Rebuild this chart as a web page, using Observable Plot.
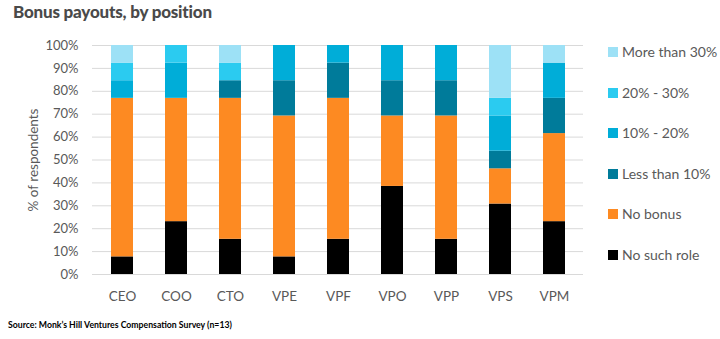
<!DOCTYPE html>
<html>
<head>
<meta charset="utf-8">
<script src="https://cdn.jsdelivr.net/npm/d3@7"></script>
<script src="https://cdn.jsdelivr.net/npm/@observablehq/plot@0.6"></script>
<style>
  body { margin: 0; background: #fff; font-family: Lato, "Open Sans", sans-serif; }
  #wrap { position: relative; width: 720px; height: 339px; overflow: hidden; }
  #title { position: absolute; left: 13px; top: 1px; font-size: 17px; font-weight: 900; color: #4a4a4a; letter-spacing: -0.2px; }
  #legend { position: absolute; left: 608px; top: 0; }
  .li { position: absolute; left: 0; white-space: nowrap; font-size: 14px; color: #595959; display: flex; align-items: center; }
  .sw { width: 10px; height: 10px; margin-right: 4px; }
  #caption { position: absolute; left: 8px; top: 319px; font-size: 8.7px; font-weight: 700; color: #000; }
  #ylabel { position: absolute; left: 33px; top: 160px; transform: translate(-50%, -50%) rotate(-90deg); white-space: nowrap; font-size: 13.5px; color: #595959; }
  #chart { position: absolute; left: 0; top: 0; }
</style>
</head>
<body>
<div id="wrap">
  <div id="chart"></div>
  <div id="title">Bonus payouts, by position</div>
  <div id="ylabel">% of respondents</div>
  <div id="legend"></div>
  <div id="caption">Source: Monk’s Hill Ventures Compensation Survey (n=13)</div>
</div>
<script>
const positions = ["CEO", "COO", "CTO", "VPE", "VPF", "VPO", "VPP", "VPS", "VPM"];
const categories = ["No such role", "No bonus", "Less than 10%", "10% - 20%", "20% - 30%", "More than 30%"];
const colors = ["#000000", "#FD8A22", "#007B9A", "#00ADD8", "#2BCBF0", "#9DE1F6"];
const respondents = 13;
// counts of respondents per position (out of 13)
const noSuchRole = [1, 3, 2, 1, 2, 5, 2, 4, 3];
const noBonus    = [9, 7, 8, 8, 8, 4, 7, 2, 5];
const lessThan10 = [0, 0, 1, 2, 2, 2, 2, 1, 2];
const tenTo20    = [1, 2, 0, 2, 1, 2, 2, 2, 2];
const twentyTo30 = [1, 1, 1, 0, 0, 0, 0, 1, 0];
const moreThan30 = [1, 0, 1, 0, 0, 0, 0, 3, 1];
const yTicks = [0, 0.1, 0.2, 0.3, 0.4, 0.5, 0.6, 0.7, 0.8, 0.9, 1];

const series = [noSuchRole, noBonus, lessThan10, tenTo20, twentyTo30, moreThan30];
const data = [];
series.forEach((vals, ci) => {
  vals.forEach((v, pi) => {
    data.push({position: positions[pi], category: categories[ci], share: v / respondents});
  });
});

const chart = Plot.plot({
  width: 720,
  height: 339,
  marginTop: 45,
  marginBottom: 65,
  marginLeft: 92,
  marginRight: 137,
  style: {fontFamily: "Lato, sans-serif", fontSize: "13px", color: "#595959", background: "transparent"},
  x: {domain: positions, paddingInner: 0.6, paddingOuter: 0.3, label: null},
  y: {domain: [0, 1], ticks: yTicks, tickFormat: d3.format(".0%"), label: null},
  color: {domain: categories, range: colors},
  marks: [
    Plot.gridY(yTicks, {stroke: "#d9d9d9", strokeOpacity: 1}),
    Plot.axisY({ticks: yTicks, tickFormat: d3.format(".0%"), tickSize: 0, tickPadding: 14, label: null, fontSize: 13}),
    Plot.axisX({tickSize: 0, tickPadding: 17, label: null, fontSize: 13.5}),
    Plot.ruleY([0], {stroke: "#d9d9d9"}),
    Plot.barY(data, {x: "position", y: "share", fill: "category", z: "category", order: categories})
  ]
});
document.getElementById("chart").appendChild(chart);

const legend = document.getElementById("legend");
const legendTops = [52, 93, 133, 174, 214, 255];
categories.slice().reverse().forEach((c, i) => {
  const row = document.createElement("div");
  row.className = "li";
  row.style.top = (legendTops[i] - 9) + "px";
  const sw = document.createElement("div");
  sw.className = "sw";
  sw.style.background = colors[categories.indexOf(c)];
  const t = document.createElement("span");
  t.textContent = c;
  row.appendChild(sw);
  row.appendChild(t);
  legend.appendChild(row);
});
</script>
</body>
</html>
